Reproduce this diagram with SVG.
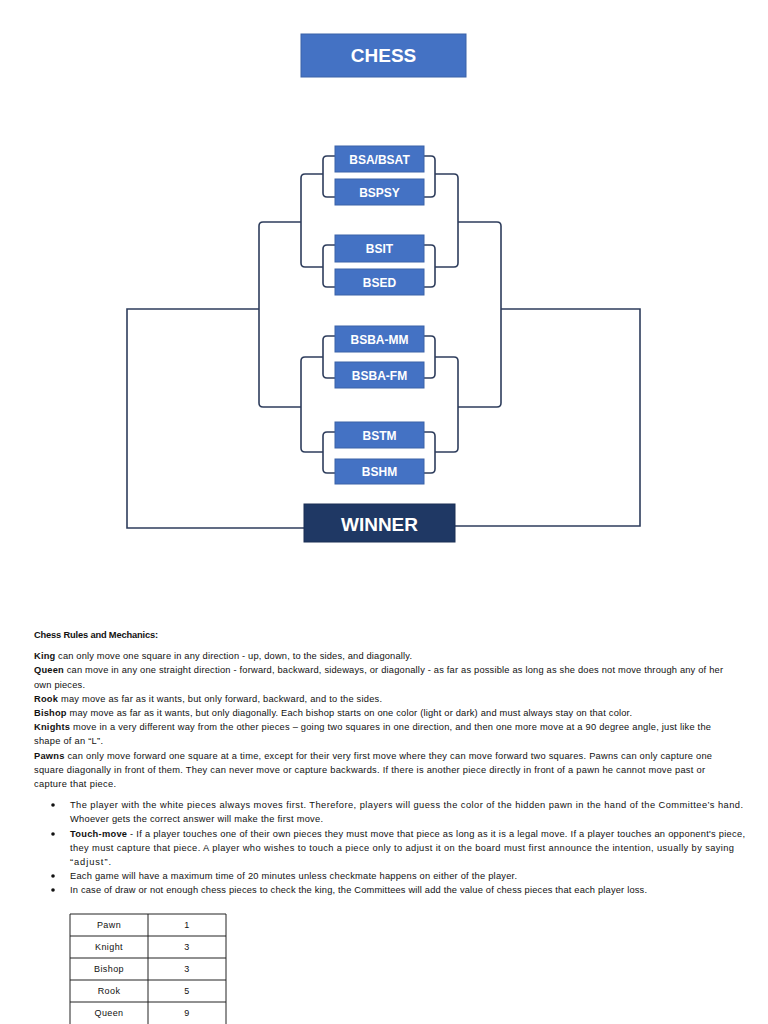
<svg xmlns="http://www.w3.org/2000/svg" width="768" height="1024" viewBox="0 0 768 1024">
<style>
.box{fill:#4472C4;stroke:#3A62A8;stroke-width:1}
.lbl{font-family:"Liberation Sans",Arial,sans-serif;font-weight:bold;fill:#fff;text-anchor:middle}
.con{fill:none;stroke:#2E3D5C;stroke-width:1.6}
.t{font-family:"Liberation Sans",Arial,sans-serif;font-size:9.3px;fill:#111}
.b{font-weight:bold}
.tbl{fill:none;stroke:#222;stroke-width:1}
.tt{font-family:"Liberation Sans",Arial,sans-serif;font-size:9px;fill:#111;text-anchor:middle;letter-spacing:0.4px}
</style>
<rect width="768" height="1024" fill="#fff"/>

<g id="connectors">
<path class="con" d="M335,156 H327 Q323,156 323,160 V193 Q323,197 327,197 H335"/>
<path class="con" d="M335,245 H327 Q323,245 323,249 V283 Q323,287 327,287 H335"/>
<path class="con" d="M335,336 H327 Q323,336 323,340 V374 Q323,378 327,378 H335"/>
<path class="con" d="M335,432 H327 Q323,432 323,436 V469 Q323,473 327,473 H335"/>
<path class="con" d="M323,174 H305 Q301,174 301,178 V263 Q301,267 305,267 H323"/>
<path class="con" d="M323,357 H305 Q301,357 301,361 V448 Q301,452 305,452 H323"/>
<path class="con" d="M301,222 H263 Q259,222 259,226 V403 Q259,407 263,407 H301"/>
<path class="con" d="M259,309 H127 V528 H304"/>
<path class="con" d="M424,156 H431 Q435,156 435,160 V193 Q435,197 431,197 H424"/>
<path class="con" d="M424,245 H431 Q435,245 435,249 V283 Q435,287 431,287 H424"/>
<path class="con" d="M424,336 H431 Q435,336 435,340 V374 Q435,378 431,378 H424"/>
<path class="con" d="M424,432 H431 Q435,432 435,436 V469 Q435,473 431,473 H424"/>
<path class="con" d="M435,174 H454 Q458,174 458,178 V263 Q458,267 454,267 H435"/>
<path class="con" d="M435,357 H454 Q458,357 458,361 V448 Q458,452 454,452 H435"/>
<path class="con" d="M458,222 H497 Q501,222 501,226 V403 Q501,407 497,407 H458"/>
<path class="con" d="M501,309 H640 V526 H455"/>
</g>

<g id="chess"><rect class="box" x="301" y="34" width="165" height="43"/><text class="lbl" x="383.5" y="62" font-size="19">CHESS</text></g>
<g id="bsa-bsat"><rect class="box" x="335" y="146" width="89" height="26"/><text class="lbl" x="379.5" y="163.5" font-size="12">BSA/BSAT</text></g>
<g id="bspsy"><rect class="box" x="335" y="179" width="89" height="26"/><text class="lbl" x="379.5" y="196.5" font-size="12">BSPSY</text></g>
<g id="bsit"><rect class="box" x="335" y="235" width="89" height="27"/><text class="lbl" x="379.5" y="253" font-size="12">BSIT</text></g>
<g id="bsed"><rect class="box" x="335" y="269" width="89" height="26"/><text class="lbl" x="379.5" y="286.5" font-size="12">BSED</text></g>
<g id="bsba-mm"><rect class="box" x="335" y="326" width="89" height="26"/><text class="lbl" x="379.5" y="343.5" font-size="12">BSBA-MM</text></g>
<g id="bsba-fm"><rect class="box" x="335" y="362" width="89" height="26"/><text class="lbl" x="379.5" y="379.5" font-size="12">BSBA-FM</text></g>
<g id="bstm"><rect class="box" x="335" y="422" width="89" height="26"/><text class="lbl" x="379.5" y="439.5" font-size="12">BSTM</text></g>
<g id="bshm"><rect class="box" x="335" y="459" width="89" height="25"/><text class="lbl" x="379.5" y="476" font-size="12">BSHM</text></g>
<g id="winner"><rect x="304" y="504" width="151" height="38" fill="#1F3864" stroke="#1A2F55"/><text class="lbl" x="379.5" y="530.5" font-size="19">WINNER</text></g>

<g id="rules">
<text class="t b" x="34" y="638" textLength="124">Chess Rules and Mechanics:</text>
<text class="t" x="34" y="659" textLength="378"><tspan class="b">King</tspan> can only move one square in any direction - up, down, to the sides, and diagonally.</text>
<text class="t" x="34" y="673" textLength="689"><tspan class="b">Queen</tspan> can move in any one straight direction - forward, backward, sideways, or diagonally - as far as possible as long as she does not move through any of her</text>
<text class="t" x="34" y="688" textLength="51">own pieces.</text>
<text class="t" x="34" y="702" textLength="348"><tspan class="b">Rook</tspan> may move as far as it wants, but only forward, backward, and to the sides.</text>
<text class="t" x="34" y="716" textLength="598"><tspan class="b">Bishop</tspan> may move as far as it wants, but only diagonally. Each bishop starts on one color (light or dark) and must always stay on that color.</text>
<text class="t" x="34" y="730" textLength="677"><tspan class="b">Knights</tspan> move in a very different way from the other pieces – going two squares in one direction, and then one more move at a 90 degree angle, just like the</text>
<text class="t" x="34" y="744" textLength="69">shape of an “L”.</text>
<text class="t" x="34" y="759" textLength="678"><tspan class="b">Pawns</tspan> can only move forward one square at a time, except for their very first move where they can move forward two squares. Pawns can only capture one</text>
<text class="t" x="34" y="773" textLength="671">square diagonally in front of them. They can never move or capture backwards. If there is another piece directly in front of a pawn he cannot move past or</text>
<text class="t" x="34" y="787" textLength="82">capture that piece.</text>

<circle cx="53" cy="805" r="1.8" fill="#111"/>
<circle cx="53" cy="834" r="1.8" fill="#111"/>
<circle cx="53" cy="876" r="1.8" fill="#111"/>
<circle cx="53" cy="890" r="1.8" fill="#111"/>
<text class="t" x="70" y="808" textLength="673">The player with the white pieces always moves first. Therefore, players will guess the color of the hidden pawn in the hand of the Committee’s hand.</text>
<text class="t" x="70" y="822" textLength="253">Whoever gets the correct answer will make the first move.</text>
<text class="t" x="70" y="837" textLength="675"><tspan class="b">Touch-move</tspan> - If a player touches one of their own pieces they must move that piece as long as it is a legal move. If a player touches an opponent's piece,</text>
<text class="t" x="70" y="851" textLength="664">they must capture that piece. A player who wishes to touch a piece only to adjust it on the board must first announce the intention, usually by saying</text>
<text class="t" x="70" y="865" textLength="41">“adjust”.</text>
<text class="t" x="70" y="879" textLength="447">Each game will have a maximum time of 20 minutes unless checkmate happens on either of the player.</text>
<text class="t" x="70" y="893" textLength="577">In case of draw or not enough chess pieces to check the king, the Committees will add the value of chess pieces that each player loss.</text>
</g>

<g id="table">
<path class="tbl" d="M70,914 H226 M70,936 H226 M70,958 H226 M70,980 H226 M70,1002 H226 M70,914 V1024 M148,914 V1024 M226,914 V1024"/>
<text class="tt" x="109" y="928">Pawn</text><text class="tt" x="187" y="928">1</text>
<text class="tt" x="109" y="950">Knight</text><text class="tt" x="187" y="950">3</text>
<text class="tt" x="109" y="972">Bishop</text><text class="tt" x="187" y="972">3</text>
<text class="tt" x="109" y="994">Rook</text><text class="tt" x="187" y="994">5</text>
<text class="tt" x="109" y="1016">Queen</text><text class="tt" x="187" y="1016">9</text>
</g>
</svg>
